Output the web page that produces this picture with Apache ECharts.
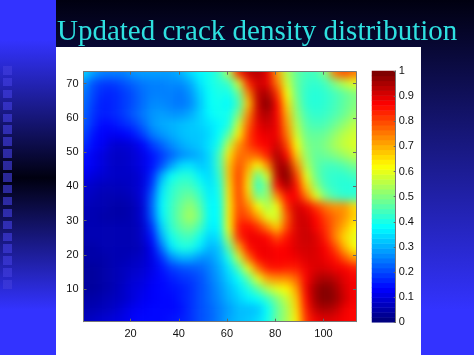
<!DOCTYPE html>
<html>
<head>
<meta charset="utf-8">
<title>Updated crack density distribution</title>
<script src="https://cdn.jsdelivr.net/npm/echarts@6/dist/echarts.min.js"></script>
<style>
  html, body { margin: 0; padding: 0; width: 474px; height: 355px; overflow: hidden; }
  body { position: relative; background: linear-gradient(#000010 0, #3333ff 310px); }
  #strip { position: absolute; left: 0; top: 0; width: 56px; height: 355px;
    background: linear-gradient(#3333ff 40px, #000010 178px, #3333ff 310px); }
  #squares { position: absolute; left: 3px; top: 66px; width: 8.5px; height: 226px;
    background: repeating-linear-gradient(rgba(64, 60, 220, .65) 0, rgba(64, 60, 220, .65) 8.5px, transparent 8.5px, transparent 11.9px); }
  #panel { position: absolute; left: 56px; top: 47px; width: 365px; height: 308px; background: #fff; }
  #heatClip { position: absolute; left: 83.5px; top: 71.7px; width: 272.5px; height: 250px; overflow: hidden; }
  #heat { position: absolute; left: -13.3px; top: -13.7px; width: 299.2px; height: 277.4px; filter: blur(4px); }
  #chart { position: absolute; left: 0; top: 0; width: 474px; height: 355px; filter: blur(0.35px); }
</style>
</head>
<body>
<div id="strip"></div>
<div id="squares"></div>
<div id="panel"></div>
<div id="heatClip"><div id="heat"></div></div>
<div id="chart"></div>
<script>
const titleText = 'Updated crack density distribution'
const xTicks = [20, 40, 60, 80, 100]
const yTicks = [10, 20, 30, 40, 50, 60, 70]
const jet = ['#000080', '#0000ff', '#0080ff', '#00ffff', '#80ff80', '#ffff00', '#ff8000', '#ff0000', '#800000']

// cell centres, every 4 units across and 3 units up
const xCells = [1, 5, 9, 13, 17, 21, 25, 29, 33, 37, 41, 45, 49, 53, 57, 61, 65, 69, 73, 77, 81, 85, 89, 93, 97, 101, 105, 109, 113]
const yCells = [73, 70, 67, 64, 61, 58, 55, 52, 49, 46, 43, 40, 37, 34, 31, 28, 25, 22, 19, 16, 13, 10, 7, 4, 1]
const density = [
  [.33, .28, .25, .25, .25, .27, .28, .28, .28, .28, .3, .34, .37, .39, .43, .55, .84, .93, .95, .9, .72, .55, .47, .44, .44, .5, .76, .8, .76],
  [.26, .2, .18, .18, .2, .22, .24, .25, .25, .26, .26, .29, .35, .39, .41, .43, .58, .84, .92, .9, .76, .58, .47, .43, .42, .44, .5, .56, .6],
  [.24, .19, .16, .16, .18, .2, .23, .25, .25, .25, .24, .27, .33, .38, .4, .39, .48, .74, .94, .96, .83, .62, .48, .42, .41, .42, .44, .47, .5],
  [.23, .18, .15, .16, .18, .2, .23, .26, .26, .25, .24, .26, .32, .38, .39, .37, .44, .68, .93, 1, .87, .66, .5, .42, .41, .42, .44, .47, .5],
  [.22, .17, .15, .16, .18, .21, .24, .27, .28, .27, .27, .29, .33, .37, .39, .39, .5, .74, .92, .96, .88, .7, .52, .44, .42, .43, .45, .48, .52],
  [.21, .16, .13, .14, .16, .18, .22, .27, .29, .3, .31, .32, .33, .35, .37, .4, .58, .78, .9, .93, .89, .73, .55, .46, .44, .45, .48, .52, .56],
  [.19, .14, .12, .11, .12, .14, .18, .24, .27, .29, .31, .32, .32, .34, .38, .47, .64, .81, .88, .9, .89, .76, .58, .48, .47, .48, .52, .56, .58],
  [.17, .13, .11, .08, .08, .09, .12, .18, .22, .26, .29, .31, .32, .35, .4, .57, .73, .81, .86, .88, .92, .81, .62, .5, .48, .5, .54, .57, .59],
  [.14, .11, .09, .07, .07, .08, .1, .14, .18, .22, .26, .28, .3, .34, .44, .65, .77, .77, .78, .85, .96, .87, .67, .52, .47, .48, .5, .53, .56],
  [.13, .11, .09, .07, .07, .08, .1, .14, .2, .28, .34, .35, .32, .34, .44, .68, .8, .72, .62, .74, .96, .96, .75, .55, .47, .44, .44, .46, .49],
  [.11, .09, .08, .07, .07, .07, .09, .16, .29, .38, .41, .41, .36, .34, .42, .68, .82, .67, .47, .59, .94, 1, .82, .6, .48, .43, .42, .42, .44],
  [.08, .07, .06, .06, .06, .07, .09, .18, .34, .41, .44, .44, .4, .35, .4, .66, .82, .65, .42, .52, .87, .96, .86, .67, .52, .44, .42, .41, .41],
  [.07, .06, .05, .05, .05, .06, .09, .21, .36, .42, .46, .48, .43, .36, .39, .65, .82, .68, .49, .52, .74, .87, .88, .76, .6, .49, .44, .42, .42],
  [.06, .05, .05, .04, .04, .05, .08, .22, .37, .43, .48, .52, .46, .37, .38, .64, .81, .75, .62, .54, .61, .83, .92, .89, .82, .76, .73, .73, .66],
  [.05, .05, .04, .04, .04, .05, .08, .21, .36, .43, .49, .54, .48, .37, .38, .64, .82, .8, .72, .6, .58, .79, .92, .92, .87, .81, .77, .73, .67],
  [.05, .05, .05, .05, .05, .05, .07, .17, .33, .42, .47, .49, .44, .36, .37, .62, .85, .87, .83, .75, .67, .81, .91, .93, .88, .83, .76, .7, .63],
  [.05, .05, .05, .05, .05, .05, .07, .14, .29, .39, .43, .44, .39, .33, .35, .56, .83, .89, .89, .87, .8, .86, .91, .93, .91, .85, .75, .66, .6],
  [.04, .04, .05, .05, .05, .05, .06, .11, .23, .35, .4, .4, .35, .3, .32, .47, .71, .86, .89, .89, .87, .88, .91, .92, .91, .88, .81, .7, .62],
  [.04, .04, .04, .05, .05, .06, .07, .1, .17, .26, .3, .3, .27, .27, .31, .4, .57, .77, .87, .89, .88, .88, .89, .91, .91, .89, .86, .79, .72],
  [.03, .03, .04, .05, .06, .07, .08, .1, .14, .18, .2, .21, .22, .25, .29, .35, .45, .6, .77, .85, .86, .85, .85, .89, .91, .91, .89, .88, .85],
  [.03, .03, .04, .05, .06, .08, .09, .11, .13, .15, .17, .18, .2, .24, .28, .33, .38, .47, .6, .72, .74, .74, .78, .88, .94, .96, .94, .9, .88],
  [.03, .03, .04, .05, .07, .09, .1, .12, .13, .14, .15, .17, .2, .23, .27, .31, .35, .4, .47, .55, .6, .63, .72, .89, .97, 1, .97, .91, .88],
  [.04, .04, .05, .06, .07, .09, .11, .12, .13, .13, .15, .17, .2, .23, .26, .3, .33, .36, .38, .43, .5, .57, .68, .87, .97, 1, .98, .92, .88],
  [.05, .05, .06, .07, .09, .11, .12, .13, .13, .13, .14, .17, .2, .22, .25, .28, .31, .31, .32, .38, .47, .54, .66, .85, .94, .96, .94, .89, .87],
  [.06, .07, .08, .09, .1, .12, .13, .13, .13, .14, .15, .17, .2, .22, .25, .29, .31, .32, .34, .39, .48, .54, .64, .83, .89, .91, .9, .88, .87],
]

// colour bar levels, bottom to top
const barLevels = [0, .02, .04, .06, .08, .1, .12, .14, .16, .18, .2, .22, .24, .26, .28, .3, .32, .34, .36, .38, .4, .42, .44, .46, .48, .5,
  .52, .54, .56, .58, .6, .62, .64, .66, .68, .7, .72, .74, .76, .78, .8, .82, .84, .86, .88, .9, .92, .94, .96, .98, 1]

// one spare ring of cells round the field, hidden by the clip, so the blur does not fade at the edges
const paddedX = [xCells[0] - 4, ...xCells, xCells[xCells.length - 1] + 4]
const paddedY = [yCells[0] + 3, ...yCells, yCells[yCells.length - 1] - 3]
const paddedRows = [density[0], ...density, density[density.length - 1]]
  .map((row) => [row[0], ...row, row[row.length - 1]])

const heatData = []
paddedRows.forEach((row, r) => {
  row.forEach((v, c) => heatData.push([c, r, v]))
})

const heatChart = echarts.init(document.getElementById('heat'))
heatChart.setOption({
  animation: false,
  grid: { left: 0, right: 0, top: 0, bottom: 0 },
  xAxis: { type: 'category', data: paddedX, show: false },
  yAxis: { type: 'category', data: paddedY, inverse: true, show: false },
  visualMap: { show: false, min: 0, max: 1, inRange: { color: jet } },
  series: [{ type: 'heatmap', data: heatData, itemStyle: { borderWidth: 0 } }],
})

const tickLabel = { color: '#111', fontFamily: 'Liberation Sans', fontSize: 11 }
const frameLine = { show: true, lineStyle: { color: '#777', width: 1 } }
const innerTick = { show: true, inside: true, length: 3, lineStyle: { color: '#666', width: 1 } }

const chart = echarts.init(document.getElementById('chart'))
chart.setOption({
  animation: false,
  title: {
    text: titleText,
    left: 52,
    top: 13,
    textStyle: { color: '#2ee0e0', fontFamily: 'Liberation Serif', fontSize: 29, fontWeight: 'normal' },
  },
  grid: [
    { left: 83.5, top: 71.7, width: 272.5, height: 250 },
    { left: 372, top: 71, width: 23.7, height: 251.3 },
  ],
  xAxis: [
    {
      type: 'value', gridIndex: 0, min: 0.5, max: 113.5, position: 'bottom', z: 5,
      splitLine: { show: false }, axisLine: frameLine,
      axisTick: { ...innerTick, customValues: xTicks },
      axisLabel: { ...tickLabel, margin: 7, customValues: xTicks },
    },
    {
      type: 'value', gridIndex: 0, min: 0.5, max: 113.5, position: 'top', z: 5,
      splitLine: { show: false }, axisLine: frameLine,
      axisTick: { ...innerTick, customValues: xTicks },
      axisLabel: { show: false },
    },
    { type: 'category', gridIndex: 1, data: ['bar'], show: false },
  ],
  yAxis: [
    {
      type: 'value', gridIndex: 0, min: 0.5, max: 73.5, position: 'left', z: 5,
      splitLine: { show: false }, axisLine: frameLine,
      axisTick: { ...innerTick, customValues: yTicks },
      axisLabel: { ...tickLabel, margin: 5, customValues: yTicks },
    },
    {
      type: 'value', gridIndex: 0, min: 0.5, max: 73.5, position: 'right', z: 5,
      splitLine: { show: false }, axisLine: frameLine,
      axisTick: { ...innerTick, customValues: yTicks },
      axisLabel: { show: false },
    },
    { type: 'category', gridIndex: 1, data: barLevels, show: false },
    {
      type: 'value', gridIndex: 1, min: 0, max: 1, interval: 0.1, position: 'right', z: 5,
      splitLine: { show: false }, axisLine: frameLine,
      axisTick: { ...innerTick, length: 2 },
      axisLabel: { ...tickLabel, margin: 3 },
    },
  ],
  visualMap: { show: false, min: 0, max: 1, seriesIndex: 0, inRange: { color: jet } },
  series: [
    {
      type: 'heatmap',
      xAxisIndex: 2,
      yAxisIndex: 2,
      data: barLevels.map((v, i) => [0, i, v]),
      itemStyle: { borderWidth: 0 },
    },
  ],
})
</script>
</body>
</html>
